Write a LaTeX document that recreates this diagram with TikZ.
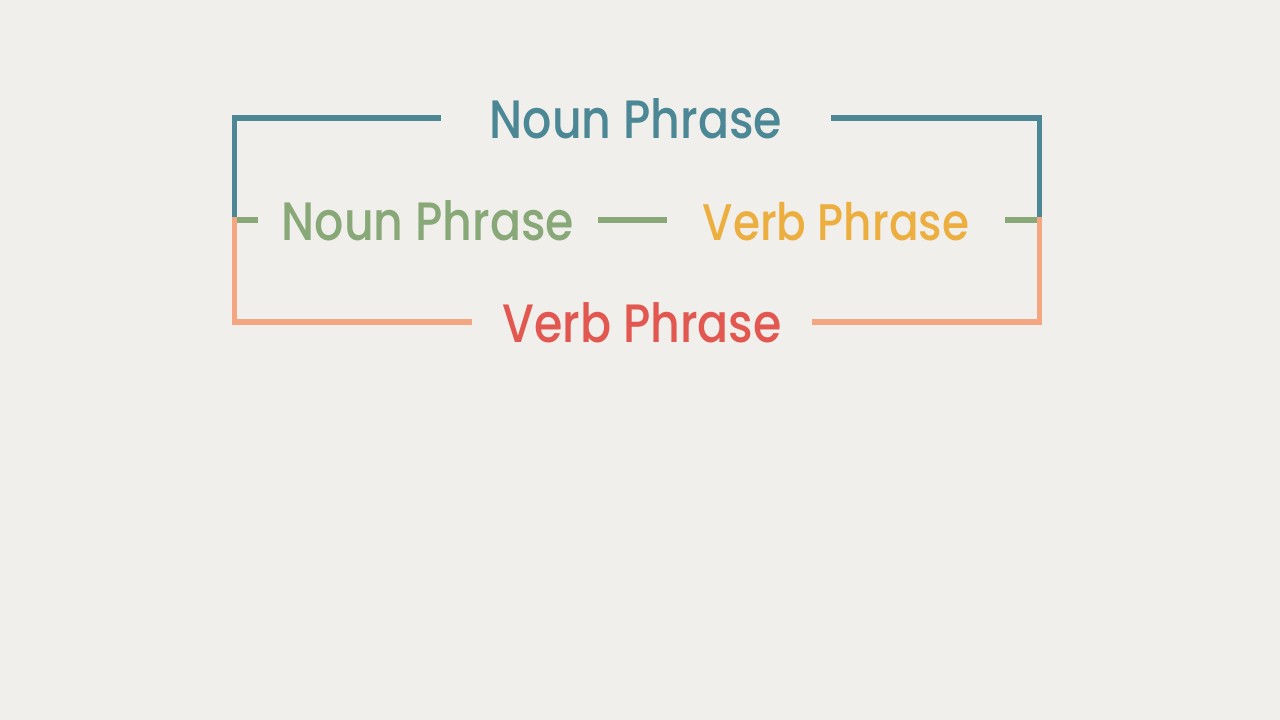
\documentclass[tikz,border=0pt]{standalone}
\usepackage{fontspec}
\setmainfont{Poppins Medium}[FakeStretch=0.85]
\newlength{\du}
\setlength{\du}{1pt}
% colours of the picture
\definecolor{backcolor}{rgb}{0.941, 0.937, 0.922}
\definecolor{tealcolor}{rgb}{0.294, 0.529, 0.580}
\definecolor{greencolor}{rgb}{0.533, 0.659, 0.471}
\definecolor{orangecolor}{rgb}{0.925, 0.686, 0.247}
\definecolor{redcolor}{rgb}{0.886, 0.341, 0.310}
\definecolor{salmoncolor}{rgb}{0.953, 0.651, 0.498}
\tikzset{
  phrase/.style={anchor=center, inner xsep=#1, inner ysep=0pt, outer sep=0pt,
    text height=40\du, text depth=0pt, font=\fontsize{54}{54}\selectfont},
  bracket/.style={line width=5.5\du, line join=miter, line cap=butt},
}

\begin{document}
\begin{tikzpicture}[x=1\du,y=-1\du]
\fill[backcolor] (0,0) rectangle (1280,720);
\useasboundingbox (0,0) rectangle (1280,720);
% corners of the bracket
\coordinate (topleft) at (234.5,118);
\coordinate (topright) at (1039.5,118);
\coordinate (midleft) at (234.5,220);
\coordinate (midright) at (1039.5,220);
\coordinate (botleft) at (234.5,322);
\coordinate (botright) at (1039.5,322);
% the phrases
\node[phrase=49\du, text=tealcolor] (nountop) at (636,118) {Noun Phrase};
\node[phrase=24\du, text=greencolor] (nounmid) at (428,220) {Noun Phrase};
\node[phrase=36\du, text=orangecolor, font=\fontsize{51.5}{51.5}\selectfont] (verbmid) at (836,220) {Verb Phrase};
\node[phrase=30\du, text=redcolor] (verbbot) at (642,322) {Verb Phrase};
% top bracket
\draw[bracket, tealcolor] (midleft) -- (topleft) -- (nountop.west);
\draw[bracket, tealcolor] (nountop.east) -- (topright) -- (midright);
% middle row
\draw[bracket, greencolor] ([xshift=-2.75\du]midleft) -- (nounmid.west);
\draw[bracket, greencolor] (nounmid.east) -- (verbmid.west);
\draw[bracket, greencolor] (verbmid.east) -- ([xshift=2.75\du]midright);
% bottom bracket
\draw[bracket, salmoncolor] ([yshift=2.75\du]midleft) -- (botleft) -- (verbbot.west);
\draw[bracket, salmoncolor] (verbbot.east) -- (botright) -- ([yshift=2.75\du]midright);
\end{tikzpicture}
\end{document}
